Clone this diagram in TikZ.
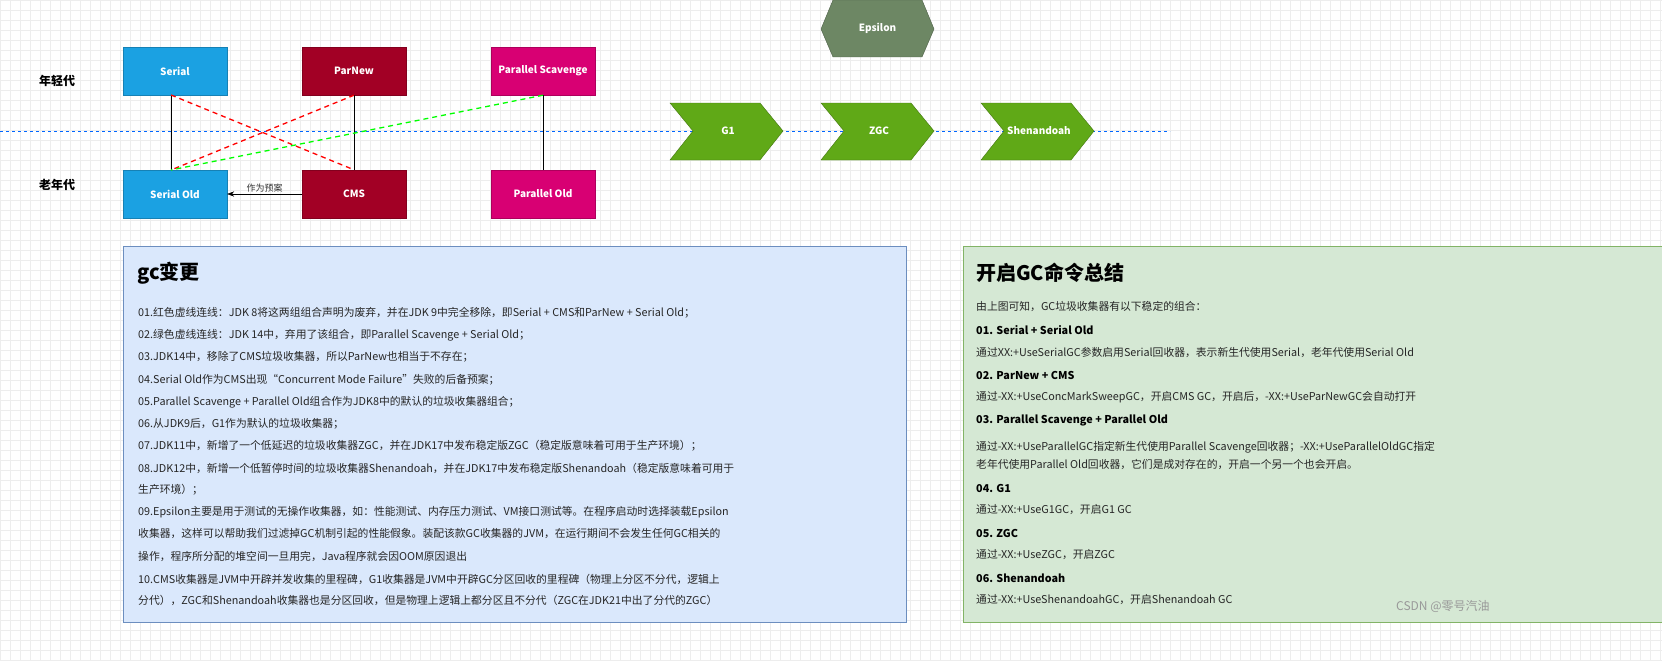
\documentclass[tikz,border=0pt]{standalone}
\usepackage{fontspec}
\setmainfont{Noto Sans CJK SC}
\usetikzlibrary{arrows.meta}
\definecolor{serialc}{HTML}{1BA1E2}
\definecolor{parnewc}{HTML}{A20025}
\definecolor{psc}{HTML}{D80073}
\definecolor{gcg}{HTML}{60A917}
\definecolor{eps}{HTML}{6D8764}
\definecolor{bfill}{HTML}{DAE8FC}
\definecolor{bdraw}{HTML}{6C8EBF}
\definecolor{gfill}{HTML}{D5E8D4}
\definecolor{gdraw}{HTML}{82B366}
\tikzset{
 box/.style={draw=#1!80!black,fill=#1,text=white,minimum width=104pt,minimum height=48pt,inner sep=0pt,font=\fontsize{10}{12}\selectfont\bfseries},
 txt/.style={anchor=west,inner sep=0pt,font=\fontsize{10.8}{12}\selectfont,text=black!85},
 bt/.style={anchor=west,inner sep=0pt,font=\fontsize{10.8}{12}\selectfont\bfseries},
 gen/.style={inner sep=0pt,font=\fontsize{12}{14}\selectfont\bfseries},
}
\begin{document}
\begin{tikzpicture}[x=1pt,y=-1pt]
\useasboundingbox (0,0) rectangle (1662,661);
\fill[white] (0,0) rectangle (1662,661);
\foreach \i in {0,10,...,1660}{\draw[black!7,line width=0.5pt] (\i,0) -- (\i,661);}
\foreach \j in {0,10,...,660}{\draw[black!7,line width=0.5pt] (0,\j) -- (1662,\j);}
\draw[dashed,color=blue!60!cyan,line width=0.7pt] (0,131) -- (1170,131);
\node[gen] (y) at (57,81) {年轻代};
\node[gen] (o) at (57,185) {老年代};
\node[box=serialc] (s) at (175,71) {Serial};
\node[box=parnewc] (p) at (354,71) {ParNew};
\node[box=psc] (ps) at (543,71) {Parallel Scavenge};
\node[box=serialc] (so) at (175,194) {Serial Old};
\node[box=parnewc] (c) at (354,194) {CMS};
\node[box=psc] (po) at (543,194) {Parallel Old};
\coordinate (sb) at (171,95); \coordinate (sot) at (171,170);
\draw[black] (sb) -- (sot);
\draw[black] (p.south) -- (c.north);
\draw[black] (ps.south) -- (po.north);
\draw[red,line width=1.3pt,dash pattern=on 5pt off 4pt] (sb) -- (c.north);
\draw[red,line width=1.3pt,dash pattern=on 5pt off 4pt] (p.south) -- (sot);
\draw[green,line width=1.3pt,dash pattern=on 5pt off 4pt] (ps.south) -- (sot);
\draw[-{Stealth[length=7pt]},black] (c.west) -- node[above,inner sep=2pt,font=\fontsize{9}{10}\selectfont,text=black!80]{作为预案} (so.east);
\foreach \x/\n/\t in {670/g1/G1,821/zgc/ZGC,981/sh/Shenandoah}{
 \filldraw[fill=gcg,draw=gcg!70!black] (\x,103) -- (\x+90,103) -- (\x+113,131) -- (\x+90,160) -- (\x,160) -- (\x+23,131) -- cycle;
 \node[text=white,font=\fontsize{10}{12}\selectfont\bfseries] (\n) at (\x+58,131) {\t};
}
\filldraw[fill=eps,draw=eps!70!black] (833,0) -- (922,0) -- (934,29) -- (922,57) -- (833,57) -- (821,29) -- cycle;
\node[text=white,font=\fontsize{10}{12}\selectfont\bfseries] (ep) at (877.5,28) {Epsilon};
\filldraw[fill=bfill,draw=bdraw] (123,246) rectangle (906,622);
\node[anchor=west,inner sep=0pt,font=\fontsize{20}{24}\selectfont\bfseries] (t1) at (137,273) {gc变更};
\node[txt] at (138,313) {01.红色虚线连线：JDK 8将这两组组合声明为废弃，并在JDK 9中完全移除，即Serial + CMS和ParNew + Serial Old；};
\node[txt] at (138,335) {02.绿色虚线连线：JDK 14中，弃用了该组合，即Parallel Scavenge + Serial Old；};
\node[txt] at (138,357) {03.JDK14中，移除了CMS垃圾收集器，所以ParNew也相当于不存在；};
\node[txt] at (138,380) {04.Serial Old作为CMS出现“Concurrent Mode Failure”失败的后备预案；};
\node[txt] at (138,402) {05.Parallel Scavenge + Parallel Old组合作为JDK8中的默认的垃圾收集器组合；};
\node[txt] at (138,424) {06.从JDK9后，G1作为默认的垃圾收集器；};
\node[txt] at (138,446) {07.JDK11中，新增了一个低延迟的垃圾收集器ZGC，并在JDK17中发布稳定版ZGC（稳定版意味着可用于生产环境）；};
\node[txt] at (138,468) {08.JDK12中，新增一个低暂停时间的垃圾收集器Shenandoah，并在JDK17中发布稳定版Shenandoah（稳定版意味着可用于};
\node[txt] at (138,490) {生产环境）；};
\node[txt] at (138,512) {09.Epsilon主要是用于测试的无操作收集器，如：性能测试、内存压力测试、VM接口测试等。在程序启动时选择装载Epsilon};
\node[txt] at (138,534) {收集器，这样可以帮助我们过滤掉GC机制引起的性能假象。装配该款GC收集器的JVM，在运行期间不会发生任何GC相关的};
\node[txt] at (138,556) {操作，程序所分配的堆空间一旦用完，Java程序就会因OOM原因退出};
\node[txt] at (138,579) {10.CMS收集器是JVM中开辟并发收集的里程碑，G1收集器是JVM中开辟GC分区回收的里程碑（物理上分区不分代，逻辑上};
\node[txt] at (138,600) {分代），ZGC和Shenandoah收集器也是分区回收，但是物理上逻辑上都分区且不分代（ZGC在JDK21中出了分代的ZGC）};
\filldraw[fill=gfill,draw=gdraw] (963,246) rectangle (1662,622);
\node[anchor=west,inner sep=0pt,font=\fontsize{20}{24}\selectfont\bfseries] (t2) at (976,273) {开启GC命令总结};
\node[txt] at (976,307) {由上图可知，GC垃圾收集器有以下稳定的组合：};
\node[bt] at (976,330) {01. Serial + Serial Old};
\node[txt] at (976,353) {通过XX:+UseSerialGC参数启用Serial回收器，表示新生代使用Serial，老年代使用Serial Old};
\node[bt] at (976,375) {02. ParNew + CMS};
\node[txt] at (976,397) {通过-XX:+UseConcMarkSweepGC，开启CMS GC，开启后，-XX:+UseParNewGC会自动打开};
\node[bt] at (976,420) {03. Parallel Scavenge + Parallel Old};
\node[txt] at (976,447) {通过-XX:+UseParallelGC指定新生代使用Parallel Scavenge回收器；-XX:+UseParallelOldGC指定};
\node[txt] at (976,464) {老年代使用Parallel Old回收器，它们是成对存在的，开启一个另一个也会开启。};
\node[bt] at (976,488) {04. G1};
\node[txt] at (976,510) {通过-XX:+UseG1GC，开启G1 GC};
\node[bt] at (976,533) {05. ZGC};
\node[txt] at (976,555) {通过-XX:+UseZGC，开启ZGC};
\node[bt] at (976,578) {06. Shenandoah};
\node[txt] at (976,600) {通过-XX:+UseShenandoahGC，开启Shenandoah GC};
\node[anchor=west,inner sep=0pt,font=\fontsize{12}{14}\selectfont,text=black!40] (wm) at (1396,606) {CSDN @零号汽油};
\end{tikzpicture}
\end{document}
